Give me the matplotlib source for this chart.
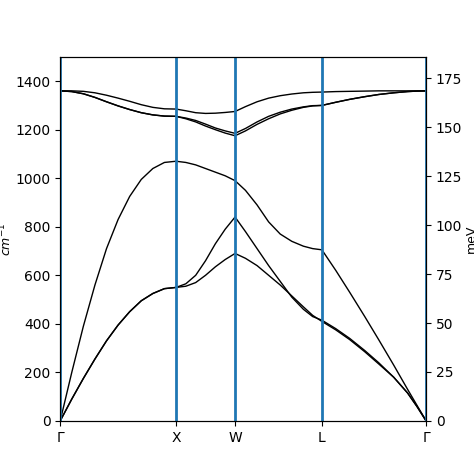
import matplotlib
matplotlib.use("Agg")
import matplotlib.pyplot as plt

labels = ["Γ", "X", "W", "L", "Γ"]
nodes = [0.0, 1.0, 1.51, 2.26, 3.16]

# k positions (path coordinate) and band values (cm^-1)
k = [0.0, 0.1, 0.2, 0.3, 0.4, 0.5, 0.6, 0.7, 0.8, 0.9, 1.0,
     1.085, 1.17, 1.255, 1.34, 1.425, 1.51,
     1.6, 1.7, 1.8, 1.9, 2.0, 2.1, 2.18, 2.26,
     2.38, 2.5, 2.63, 2.75, 2.88, 3.0, 3.08, 3.16]
band1 = [0, 90, 175, 255, 330, 395, 450, 495, 525, 545, 550,
         555, 570, 600, 635, 665, 690,
         670, 640, 600, 560, 515, 470, 435, 410,
         375, 335, 285, 235, 180, 115, 60, 0]
band2 = [0, 90, 175, 255, 330, 395, 450, 495, 525, 545, 550,
         565, 600, 660, 730, 790, 840,
         780, 710, 640, 575, 510, 460, 430, 415,
         380, 340, 290, 240, 180, 115, 60, 0]
band3 = [0, 200, 390, 560, 710, 830, 925, 995, 1040, 1065, 1070,
         1065, 1055, 1040, 1025, 1010, 990,
         950, 890, 820, 770, 740, 720, 710, 705,
         620, 530, 430, 335, 230, 130, 65, 0]
band4 = [1360, 1357, 1348, 1333, 1315, 1298, 1283, 1270, 1261, 1256, 1255,
         1245, 1232, 1215, 1200, 1186, 1175,
         1195, 1222, 1245, 1265, 1280, 1292, 1298, 1300,
         1313, 1325, 1336, 1345, 1352, 1357, 1359, 1360]
band5 = [1360, 1357, 1348, 1333, 1315, 1298, 1283, 1270, 1261, 1256, 1255,
         1248, 1238, 1223, 1207, 1195, 1185,
         1205, 1232, 1255, 1272, 1285, 1294, 1299, 1300,
         1313, 1325, 1336, 1345, 1352, 1357, 1359, 1360]
band6 = [1360, 1360, 1358, 1352, 1342, 1330, 1317, 1303, 1292, 1286, 1285,
         1278, 1270, 1267, 1268, 1271, 1275,
         1295, 1315, 1330, 1340, 1347, 1352, 1354, 1355,
         1357, 1358, 1359, 1360, 1360, 1360, 1360, 1360]

fig = plt.figure(figsize=(4.74, 4.74), dpi=100)
ax = fig.add_axes([0.127, 0.112, 0.772, 0.768])
for b in (band1, band2, band3, band4, band5, band6):
    ax.plot(k, b, color="black", lw=1.0)
for n in nodes:
    ax.axvline(n, color="#1f77b4", lw=2)
ax.set_xlim(nodes[0], nodes[-1])
ax.set_ylim(0, 1500)
ax.set_xticks(nodes)
ax.set_xticklabels(labels)
ax.set_ylabel("$cm^{-1}$", fontsize=9)
ax.yaxis.set_label_coords(-0.125, 0.5)
ax.tick_params(labelsize=10)
ax2 = ax.twinx()
ax2.set_ylim(0, 1500 / 8.0655)
ax2.set_ylabel("meV", fontsize=9)
ax2.yaxis.set_label_coords(1.105, 0.5)
ax2.tick_params(labelsize=10)
fig.savefig("out.png", dpi=100)
